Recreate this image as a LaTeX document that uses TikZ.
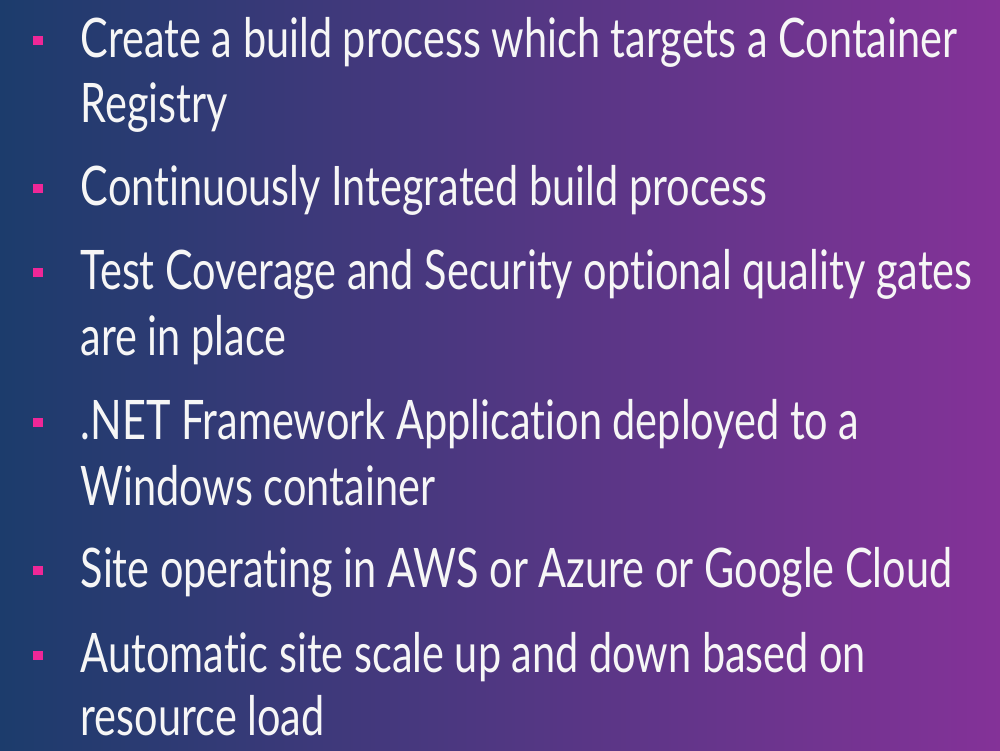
\documentclass[tikz,border=0pt]{standalone}
\usepackage{fontspec}
\setmainfont[Ligatures=NoCommon]{Lato}
\begin{document}
\begin{tikzpicture}[x=0.01cm,y=-0.01cm,
  txt/.style={anchor=base west,inner sep=0,font=\fontsize{15.5pt}{18pt}\selectfont,text=white!93!gray},
  bul/.style={fill=magenta!80!pink,minimum size=0.09cm,inner sep=0}]
\shade[left color={rgb,255:red,28;green,60;blue,108},right color={rgb,255:red,132;green,50;blue,152}] (0,0) rectangle (1000,750);
\useasboundingbox (0,0) rectangle (1000,750);
\foreach \y/\t [count=\i] in {
 57/Create a build process which targets a Container,
 122/Registry,
 205/Continuously Integrated build process,
 289/Test Coverage and Security optional quality gates,
 355/are in place,
 439/.NET Framework Application deployed to a,
 505/Windows container,
 587/Site operating in AWS or Azure or Google Cloud,
 672/Automatic site scale up and down based on,
 735/resource load}
 \node[txt] (t\i) at (80,\y) {\scalebox{0.76}[1]{\t}};
\foreach \y [count=\i] in {40,188,272,422,570,655}
 \node[bul] (b\i) at (38,\y) {};
\end{tikzpicture}
\end{document}
